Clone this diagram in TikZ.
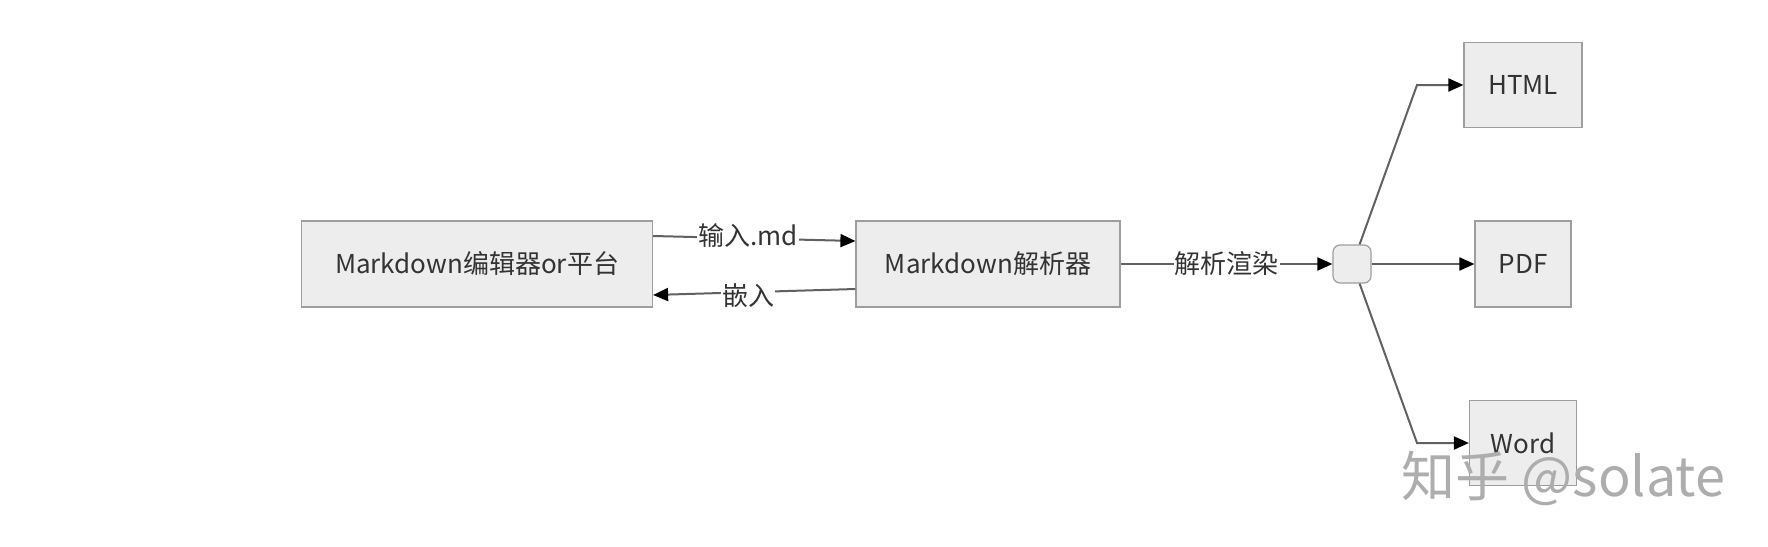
\documentclass[tikz,border=0pt]{standalone}
\usepackage{fontspec}
\setmainfont{Noto Sans CJK SC}
\usetikzlibrary{arrows.meta}
\begin{document}
\begin{tikzpicture}[x=1pt,y=-1pt,
  box/.style={draw=black!38,fill=black!7,line width=1.2pt,inner sep=0pt,font=\fontsize{26}{30}\selectfont,text=black!80},
  conn/.style={draw=black!62,line width=2pt,-{Triangle[length=15pt,width=13pt,fill=black,color=black]}},
  lbl/.style={fill=white,inner sep=1pt,font=\fontsize{26}{30}\selectfont,text=black!80}]
\useasboundingbox (0,0) rectangle (1768,546);
\node[box,minimum width=351pt,minimum height=86pt] (a) at (477,264) {Markdown编辑器or平台};
\node[box,minimum width=264pt,minimum height=86pt] (b) at (988,264) {Markdown解析器};
\node[box,rounded corners=7pt,minimum width=38pt,minimum height=38pt] (j) at (1352,264) {};
\node[box,minimum width=118pt,minimum height=85pt] (html) at (1523,85) {HTML};
\node[box,minimum width=96pt,minimum height=86pt] (pdf) at (1523,264) {PDF};
\node[box,minimum width=107pt,minimum height=85pt] (word) at (1523,443) {Word};
\draw[conn] (a.east|-0,236) -- node[lbl,pos=0.47,yshift=3pt]{输入.md} (b.west|-0,241);
\draw[conn] (b.west|-0,289) -- node[lbl,pos=0.53,yshift=-3pt]{嵌入} (a.east|-0,295);
\draw[conn] (b) -- node[lbl]{解析渲染} (j);
\coordinate (ht) at (1417,85);
\coordinate (wt) at (1417,443);
\draw[conn] (j.north east) ++(-12,0) -- (ht) -- (html);
\draw[conn] (j) -- (pdf);
\draw[conn] (j.south east) ++(-12,0) -- (wt) -- (word);
\node[text=black!32,font=\fontsize{54}{58}\selectfont,anchor=west] (wm) at (1398,478) {知乎 @solate};
\end{tikzpicture}
\end{document}
